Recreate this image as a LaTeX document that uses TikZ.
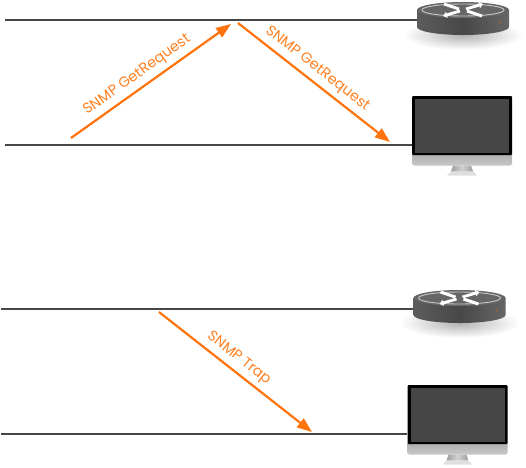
\documentclass[tikz,border=0pt]{standalone}
\usepackage{fontspec}
\usepackage{xcolor}
\usetikzlibrary{arrows.meta}
\newfontfamily\msgfont{Poppins}
\definecolor{msgorange}{RGB}{255,115,10}
\definecolor{wiregray}{RGB}{70,70,70}
\tikzset{
  wire/.style={wiregray,line width=1.7pt},
  msg/.style={-{Triangle[length=15pt,width=11pt]},msgorange,line width=2.2pt},
  lbl/.style={font=\msgfont\fontsize{14.5}{16}\selectfont,text=msgorange!90,sloped,above,inner sep=4.5pt},
  devbox/.style={inner sep=0pt,outer sep=0pt},
  router/.pic={
    \shade[inner color=black!30,outer color=white] (0,16) ellipse [x radius=60,y radius=15];
    \path[left color=black!64,right color=black!60,middle color=black!72]
      (-46,-9) -- (-46,8) arc [start angle=180,end angle=0,x radius=46,y radius=8] -- (46,-9) -- cycle;
    \path[fill=black!60] (0,-9) ellipse [x radius=46,y radius=8];
    \draw[black!22,line width=0.9pt] (0,-9) ellipse [x radius=41,y radius=6];
    \draw[white,line width=3pt] (-19,-15) -- (-4,-10);
    \draw[white,line width=3pt] (4,-8) -- (19,-3);
    \draw[white,line width=2.8pt,-{Triangle[length=4pt,width=6pt]}] (-3,-8) -- (-20,-3);
    \draw[white,line width=2.8pt,-{Triangle[length=4pt,width=6pt]}] (3,-10) -- (20,-15);
    \fill[orange!80!black] (37,3) circle (0.8);
  },
  monitor/.pic={
    \path[top color=black!32,bottom color=black!22,rounded corners=2pt] (-50,22) rectangle (50,35);
    \path[left color=black!38,right color=black!38,middle color=black!18]
      (-9,35) -- (9,35) -- (11,41) -- (-11,41) -- cycle;
    \path[fill=black!12] (-11,41) -- (11,41) -- (15,45) -- (-15,45) -- cycle;
    \path[fill=black,rounded corners=1pt] (-50,-34.5) rectangle (50,24.5);
    \path[fill=black!72] (-47,-31.5) rectangle (47,22.5);
  },
}
\begin{document}
\begin{tikzpicture}[x=1pt,y=-1pt]
  \useasboundingbox (0,0) rectangle (526,467);
  \node[devbox,minimum width=92pt,minimum height=33pt] (routerA) at (463,19) {};
  \node[devbox,minimum width=100pt,minimum height=69pt] (monitorA) at (462,130.5) {};
  \node[devbox,minimum width=93pt,minimum height=33pt] (routerB) at (459.5,307) {};
  \node[devbox,minimum width=101pt,minimum height=69pt] (monitorB) at (457.5,419.5) {};
  \coordinate (wireA) at (5,20);
  \coordinate (wireB) at (5,145);
  \coordinate (wireC) at (1,309);
  \coordinate (wireD) at (1,434);
  \draw[wire] (wireA) -- (wireA -| routerA.west);
  \draw[wire] (wireB) -- (wireB -| monitorA.west);
  \draw[wire] (wireC) -- (wireC -| routerB.west);
  \draw[wire] (wireD) -- (wireD -| monitorB.west);
  \pic at (routerA) {router};
  \pic at (monitorA) {monitor};
  \pic at (routerB) {router};
  \pic at (monitorB) {monitor};
  \coordinate (upA) at (71,138);
  \coordinate (upB) at (231,24);
  \coordinate (downA) at (238,23);
  \coordinate (downB) at (390,142);
  \coordinate (trapA) at (159,312);
  \coordinate (trapB) at (312,432);
  \draw[msg] (upA) -- node[lbl,pos=0.46] {SNMP GetRequest} (upB);
  \draw[msg] (downA) -- node[lbl,pos=0.47] {SNMP GetRequest} (downB);
  \draw[msg] (trapA) -- node[lbl,pos=0.47] {SNMP Trap} (trapB);
\end{tikzpicture}
\end{document}
